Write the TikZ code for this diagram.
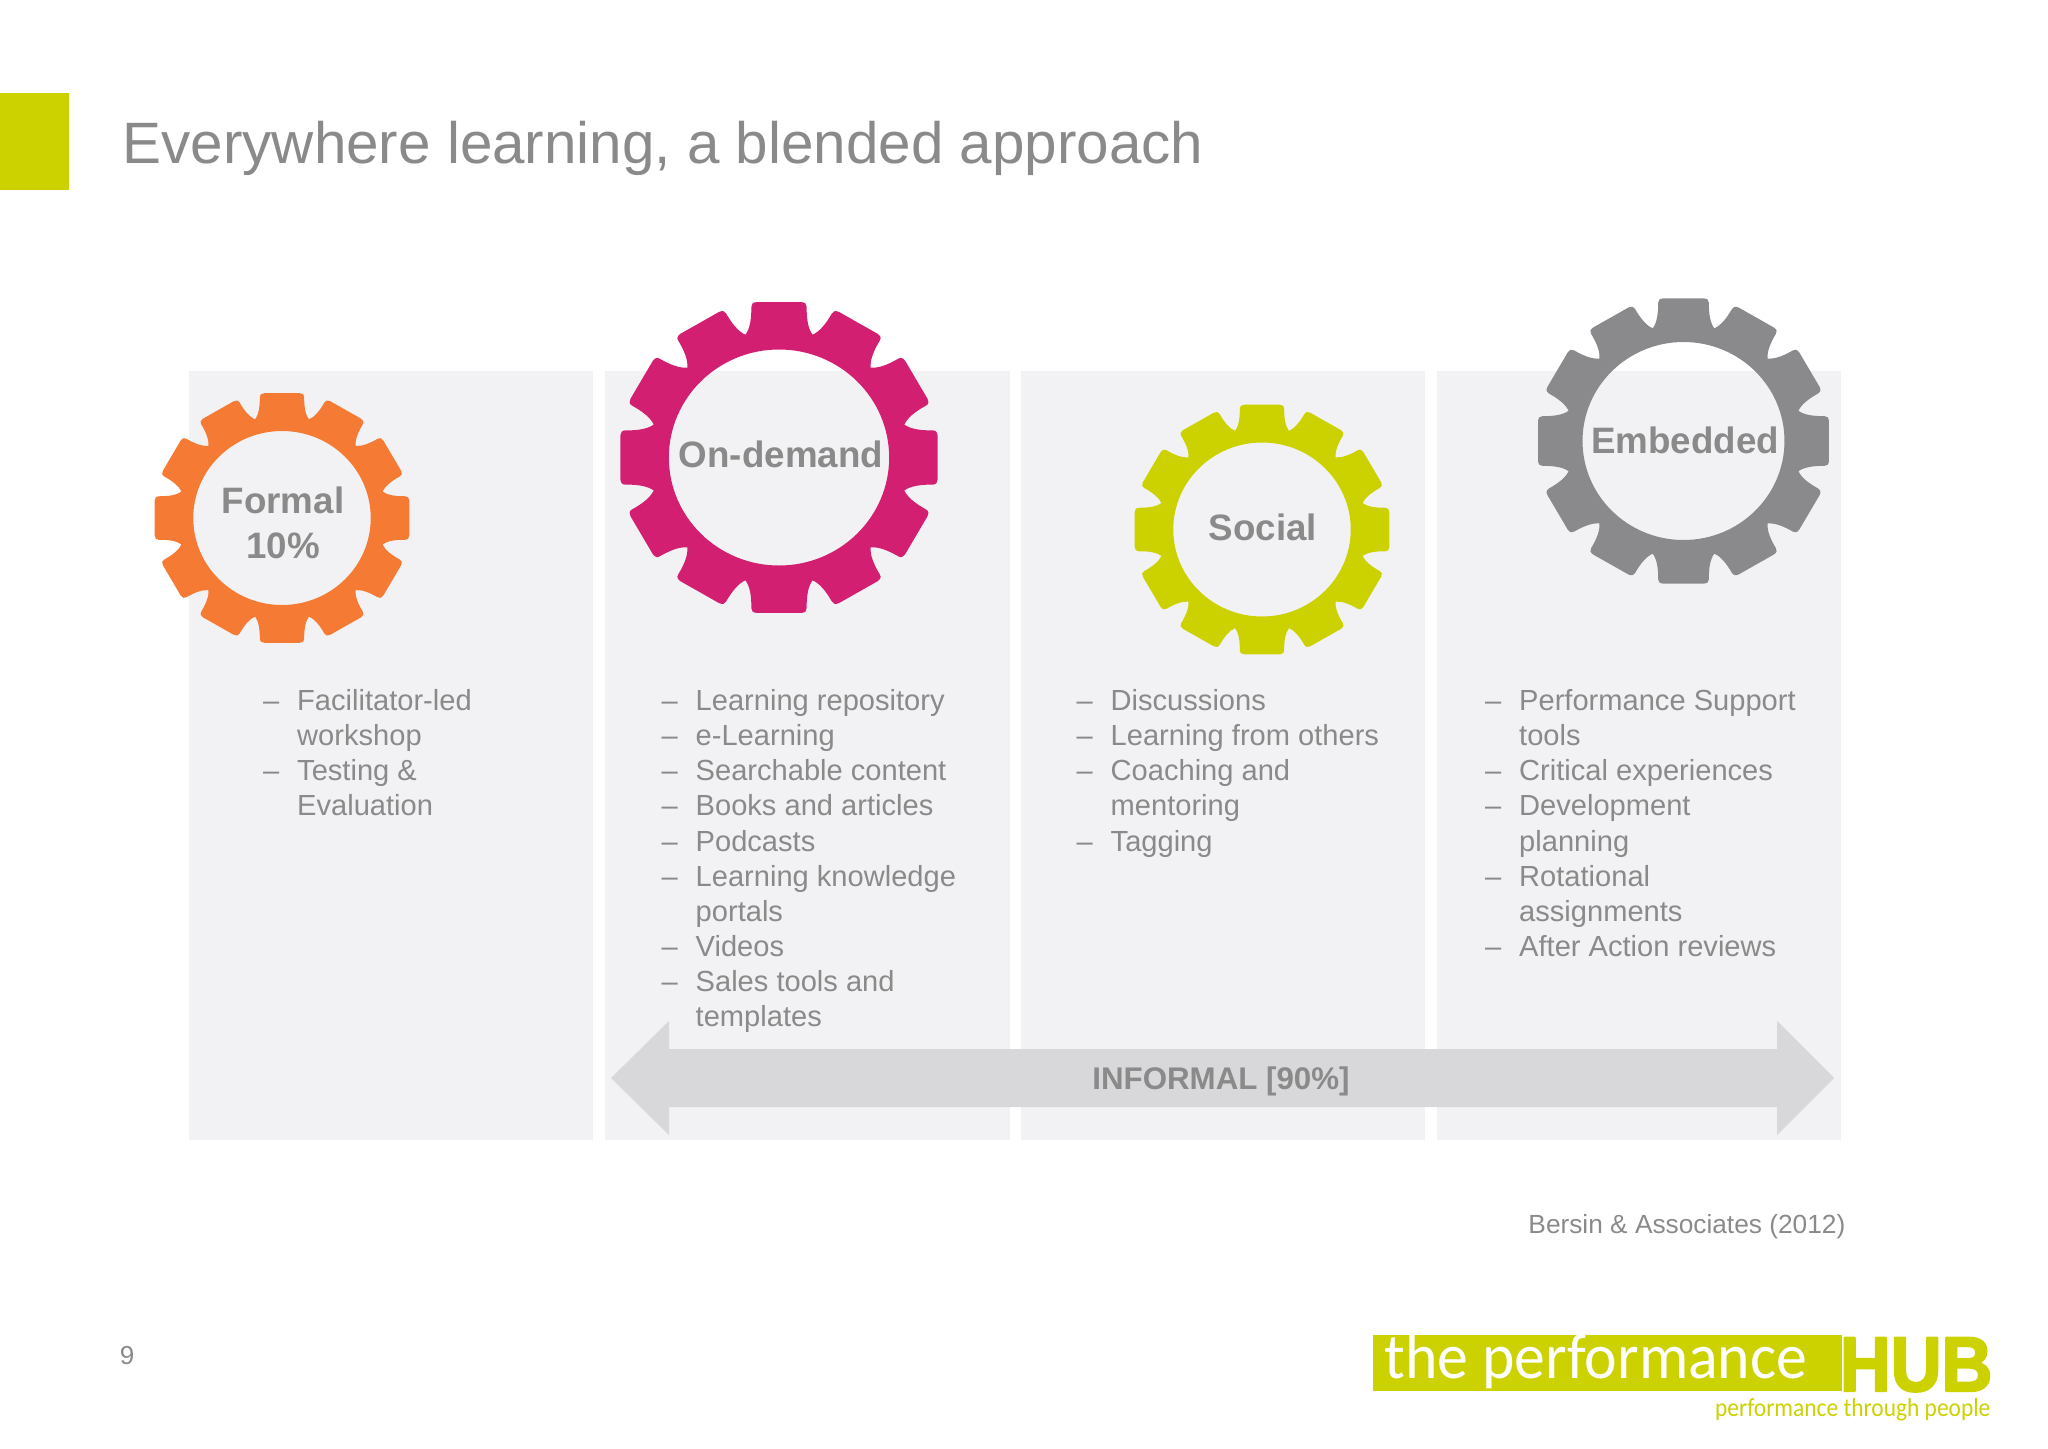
\documentclass[tikz,border=0pt]{standalone}
\usepackage{fontspec}
\setmainfont{Liberation Sans}
\newfontfamily\logofont{Carlito}
\newfontfamily\hubfont[FakeBold=3]{Liberation Sans}
\definecolor{hubgreen}{HTML}{CCD100}
\definecolor{gearorange}{HTML}{F57B35}
\definecolor{gearpink}{HTML}{D21F72}
\definecolor{geargrey}{HTML}{8A898C}
\definecolor{panelgrey}{HTML}{F2F2F4}
\definecolor{arrowgrey}{HTML}{D8D8DA}
\definecolor{textgrey}{HTML}{8A8A8A}
\newcommand{\itm}{\makebox[0.34cm][l]{--}}
\newcommand{\cnt}{\hspace*{0.34cm}}
% centre x, centre y, outer radius, inner radius, colour
\newcommand{\drawgear}[5]{%
  \fill[#5,even odd rule,shift={(#1,#2)},xscale=1.02] (-15:0.81*#3)
  \foreach \a in {0,30,...,330}{
    .. controls (\a-12.5:0.84*#3) and (\a-11:0.90*#3) .. (\a-10.2:0.975*#3)
    .. controls (\a-10:0.995*#3) and (\a-9.4:#3) .. (\a-8:#3)
    -- (\a+8:#3)
    .. controls (\a+9.4:#3) and (\a+10:0.995*#3) .. (\a+10.2:0.975*#3)
    .. controls (\a+11:0.90*#3) and (\a+12.5:0.84*#3) .. (\a+15:0.81*#3)
  } -- cycle
  (0,0) circle[radius=#4];
}
\tikzset{
  panel/.style={fill=panelgrey},
  gearlabel/.style={font=\fontsize{10.45}{12.9}\selectfont\bfseries,text=textgrey,align=center,inner sep=0pt},
  listtext/.style={font=\fontsize{8.27}{9.97}\selectfont,text=textgrey,align=left,anchor=north west,inner sep=0pt},
}
\begin{document}
\begin{tikzpicture}[x=0.01cm,y=-0.01cm,line join=round]
	\useasboundingbox (0,0) rectangle (2048,1448);
	%Tiêu đề
	\fill[hubgreen] (0,93) rectangle (69,190);
	\node[anchor=west,inner sep=0pt,text=textgrey,font=\fontsize{16.6}{20}\selectfont] (title) at (122,148) {Everywhere learning, a blended approach};
	%Các cột
	\fill[panel] (189,371) rectangle (593,1140);
	\fill[panel] (605,371) rectangle (1010,1140);
	\fill[panel] (1021,371) rectangle (1425,1140);
	\fill[panel] (1437,371) rectangle (1841,1140);
	%Bánh răng
	\drawgear{282}{518}{126}{87}{gearorange}
	\drawgear{779}{457.5}{157}{108}{gearpink}
	\drawgear{1262}{529.5}{126}{87}{hubgreen}
	\drawgear{1683.5}{441}{144}{99}{geargrey}
	\node[gearlabel] (formal) at (283,523) {Formal\\10\%};
	\node[gearlabel] (ondemand) at (781,454) {On-demand};
	\node[gearlabel] (social) at (1263,527) {Social};
	\node[gearlabel] (embedded) at (1685,440) {Embedded};
	%Danh sách
	\node[listtext] (listformal) at (262.5,689) {\itm Facilitator-led\\\cnt workshop\\\itm Testing \&\\\cnt Evaluation};
	\node[listtext] (listondemand) at (661,689) {\itm Learning repository\\\itm e-Learning\\\itm Searchable content\\\itm Books and articles\\\itm Podcasts\\\itm Learning knowledge\\\cnt portals\\\itm Videos\\\itm Sales tools and\\\cnt templates};
	\node[listtext] (listsocial) at (1076,689) {\itm Discussions\\\itm Learning from others\\\itm Coaching and\\\cnt mentoring\\\itm Tagging};
	\node[listtext] (listembedded) at (1484.5,689) {\itm Performance Support\\\cnt tools\\\itm Critical experiences\\\itm Development\\\cnt planning\\\itm Rotational\\\cnt assignments\\\itm After Action reviews};
	%Mũi tên
	\fill[arrowgrey] (611,1078)--(669,1021)--(669,1049)--(1777,1049)--(1777,1021)--(1834,1078)--(1777,1135)--(1777,1107)--(669,1107)--(669,1135)--cycle;
	\node[inner sep=0pt,text=textgrey,font=\fontsize{8.9}{10}\selectfont\bfseries] (informal) at (1221,1081) {INFORMAL [90\%]};
	%Chân trang
	\node[anchor=east,inner sep=0pt,text=textgrey,font=\fontsize{7.47}{9}\selectfont] (source) at (1846,1227) {Bersin \& Associates (2012)};
	\node[inner sep=0pt,text=textgrey,font=\fontsize{7.4}{9}\selectfont] (pagenum) at (127,1356) {9};
	%Logo
	\fill[hubgreen] (1373,1335) rectangle (1842,1391);
	\node[anchor=base west,inner sep=0pt,text=white,xscale=0.96,font=\logofont\fontsize{18.3}{20}\selectfont] (logoname) at (1384,1378) {the performance};
	\node[anchor=base east,inner sep=0pt,text=hubgreen,xscale=0.91,font=\hubfont\fontsize{22}{24}\selectfont\bfseries] (logohub) at (1993,1391) {HUB};
	\node[anchor=base east,inner sep=0pt,text=hubgreen,xscale=0.9,font=\logofont\fontsize{7.4}{8}\selectfont] (logotag) at (1991,1416) {performance through people};
\end{tikzpicture}
\end{document}
